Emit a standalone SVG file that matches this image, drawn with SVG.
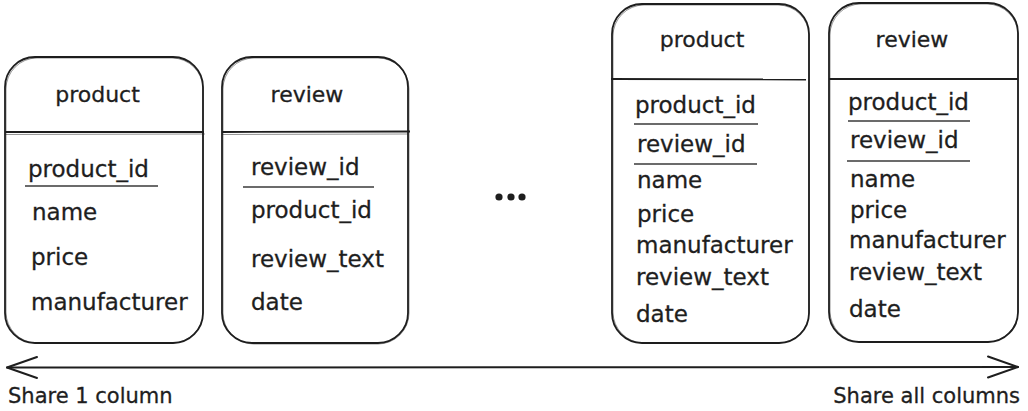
<svg xmlns="http://www.w3.org/2000/svg" width="1028" height="411" viewBox="0 0 1028 411">
<style>
  .box{fill:none;stroke:#1e1e1e;stroke-width:1.8;stroke-linejoin:round}
  .sk{fill:none;stroke:#1e1e1e;stroke-width:0.8;opacity:0.6}
  .div{stroke:#1e1e1e;stroke-width:1.8;fill:none}
  .ul{stroke:#3a3a3a;stroke-width:1.3;fill:none}
  .t{font-family:"DejaVu Sans","Liberation Sans",sans-serif;font-size:23px;fill:#1e1e1e;stroke:#1e1e1e;stroke-width:0.3}
  .title{text-anchor:middle;font-size:22px}
  .lbl{font-family:"DejaVu Sans","Liberation Sans",sans-serif;font-size:21px;fill:#1e1e1e;stroke:#1e1e1e;stroke-width:0.3}
  .arr{fill:none;stroke:#1e1e1e;stroke-width:2;stroke-linecap:round;stroke-linejoin:round}
</style>
<rect width="1028" height="411" fill="#ffffff"/>

<g id="product-left">
  <rect class="box" x="5" y="57" width="198" height="286" rx="30" ry="30"/>
  <rect class="sk" x="6" y="58" width="197" height="285" rx="31" ry="31"/>
  <line class="div" x1="5" y1="132" x2="204" y2="132"/>
  <line class="sk" x1="5" y1="134.5" x2="205" y2="134"/>
  <text class="t title" x="97.5" y="102">product</text>
  <text class="t" x="28" y="177">product_id</text>
  <line class="ul" x1="25" y1="186" x2="158" y2="186"/>
  <text class="t" x="32" y="220">name</text>
  <text class="t" x="31" y="265">price</text>
  <text class="t" x="31" y="310">manufacturer</text>
</g>

<g id="review-left">
  <rect class="box" x="222" y="57" width="186" height="286" rx="30" ry="30"/>
  <rect class="sk" x="223" y="58" width="186" height="286" rx="31" ry="31"/>
  <line class="div" x1="222" y1="132" x2="410" y2="131.5"/>
  <line class="sk" x1="222" y1="134.5" x2="408" y2="134"/>
  <text class="t title" x="307" y="102">review</text>
  <text class="t" x="251" y="175">review_id</text>
  <line class="ul" x1="243" y1="187" x2="374" y2="187"/>
  <text class="t" x="251" y="218">product_id</text>
  <text class="t" x="251" y="267">review_text</text>
  <text class="t" x="251" y="310">date</text>
</g>

<g id="dots" fill="#1e1e1e">
  <circle cx="499" cy="197" r="3.6"/>
  <circle cx="511" cy="197" r="3.6"/>
  <circle cx="522" cy="197" r="3.6"/>
</g>

<g id="product-right">
  <rect class="box" x="612" y="4" width="197" height="339" rx="30" ry="30"/>
  <rect class="sk" x="613" y="5" width="196" height="338" rx="31" ry="31"/>
  <line class="div" x1="611" y1="79" x2="806" y2="79.5"/>
  <text class="t title" x="702" y="47">product</text>
  <text class="t" x="635" y="113">product_id</text>
  <line class="ul" x1="634" y1="124" x2="758" y2="124"/>
  <text class="t" x="637" y="152">review_id</text>
  <line class="ul" x1="634" y1="164" x2="757" y2="164"/>
  <text class="t" x="637" y="188">name</text>
  <text class="t" x="637" y="222">price</text>
  <text class="t" x="636" y="253">manufacturer</text>
  <text class="t" x="636" y="285">review_text</text>
  <text class="t" x="636" y="322">date</text>
</g>

<g id="review-right">
  <rect class="box" x="829" y="3" width="189" height="339" rx="30" ry="30"/>
  <rect class="sk" x="830" y="4" width="188" height="338" rx="31" ry="31"/>
  <line class="div" x1="829" y1="79" x2="1018" y2="79"/>
  <text class="t title" x="912" y="47">review</text>
  <text class="t" x="848" y="110">product_id</text>
  <line class="ul" x1="848" y1="121" x2="970" y2="121"/>
  <text class="t" x="850" y="148">review_id</text>
  <line class="ul" x1="847" y1="161" x2="970" y2="161"/>
  <text class="t" x="850" y="187">name</text>
  <text class="t" x="850" y="218">price</text>
  <text class="t" x="849" y="248">manufacturer</text>
  <text class="t" x="849" y="280">review_text</text>
  <text class="t" x="849" y="317">date</text>
</g>

<g id="connectors">
  <path class="arr" d="M7 367.5 L1018 367"/>
  <path class="arr" d="M37 357 L7 367.5 L37 378"/>
  <path class="arr" d="M988 356.5 L1018 367 L988 377.5"/>
</g>

<g id="labels">
  <text class="lbl" x="8" y="403">Share 1 column</text>
  <text class="lbl" x="1020" y="403" text-anchor="end">Share all columns</text>
</g>
</svg>
